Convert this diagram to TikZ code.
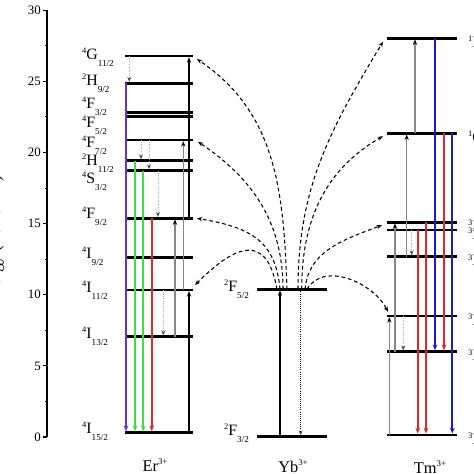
\documentclass[tikz,border=0pt]{standalone}
\usepackage{fontspec}
\setmainfont{Liberation Serif}
\usepackage{xcolor}
\usetikzlibrary{arrows.meta}
\definecolor{violetline}{RGB}{104,48,214}
\definecolor{greenline}{RGB}{64,222,64}
\definecolor{redline}{RGB}{226,40,40}
\definecolor{blueline}{RGB}{28,28,196}
\definecolor{pumpgray}{RGB}{135,135,135}
\definecolor{relaxgray}{RGB}{170,170,170}
\newcommand{\lterm}[3]{\raisebox{4.8pt}{\fontsize{7.2}{8}\selectfont #1}#2\raisebox{-6.6pt}{\fontsize{7.8}{8}\selectfont #3}}
\newcommand{\ion}[1]{#1\raisebox{5.5pt}{\fontsize{7.5}{8}\selectfont 3+}}
\tikzset{
  level/.style={line width=2.3pt,black},
  pump/.style={-{Stealth[length=4.6pt,width=3.6pt]},line width=0.9pt,black,shorten >=1pt},
  graypump/.style={-{Stealth[length=4.6pt,width=3.6pt,black]},line width=1pt,pumpgray,shorten >=1pt},
  relax/.style={-{Stealth[length=4.2pt,width=3.4pt,black!70]},densely dotted,line width=0.8pt,relaxgray,shorten >=1.2pt},
  emit/.style={-{Stealth[length=5pt,width=4pt]},line width=1.4pt,shorten >=1.2pt},
  transfer/.style={-{Stealth[length=4.6pt,width=3.6pt]},dash pattern=on 3.2pt off 2.4pt,line width=0.9pt},
  levellabel/.style={anchor=west,inner sep=0pt,font=\fontsize{13.5}{15}\selectfont},
  ionlabel/.style={inner sep=0pt,font=\fontsize{14}{16}\selectfont},
  ticklabel/.style={anchor=east,inner sep=0pt,font=\fontsize{11}{13}\selectfont}
}
\begin{document}
\begin{tikzpicture}[x=0.03cm,y=0.4269cm]
  \useasboundingbox (0,-2.6) rectangle (474,30.71);
  \clip (0,-2.6) rectangle (474,30.71);

  \draw[line width=1.5pt] (47,0) -- (47,30);
  \foreach \t in {0,5,...,30} {
    \draw[line width=1pt] (47,\t) -- (43,\t);
    \node[ticklabel] (tick\t) at (41,\t) {\t};
  }
  \foreach \t in {2.5,7.5,...,27.5}
    \draw[line width=0.8pt] (47,\t) -- (45,\t);
  \node[rotate=90,font=\fontsize{15}{17}\selectfont] (ytitle) at (-5,13.8)
    {Energy (10\textsuperscript{3} cm\textsuperscript{−1})};

  \coordinate (erG112) at (193,26.77);
  \coordinate (erH92) at (193,24.86);
  \coordinate (erF32) at (193,22.79);
  \coordinate (erF52) at (193,22.51);
  \coordinate (erF72) at (193,20.87);
  \coordinate (erH112) at (193,19.42);
  \coordinate (erS32) at (193,18.71);
  \coordinate (erF92) at (193,15.37);
  \coordinate (erI92) at (193,12.60);
  \coordinate (erI112) at (193,10.33);
  \coordinate (erI132) at (193,7.05);
  \coordinate (erI152) at (193,0.30);
  \foreach \lv in {erG112,erH92,erF32,erF52,erF72,erH112,erS32,erF92,erI92,erI112,erI132,erI152}
    \draw[level] (\lv) -- ++(-68,0);

  \coordinate (ybF52) at (257,10.38);
  \coordinate (ybF32) at (257,0.02);
  \foreach \lv in {ybF52,ybF32}
    \draw[level] (\lv) -- ++(70,0);

  \coordinate (tmD2) at (387,28.02);
  \coordinate (tmG4) at (387,21.34);
  \coordinate (tmF2) at (387,15.09);
  \coordinate (tmF3) at (387,14.55);
  \coordinate (tmH4) at (387,12.67);
  \coordinate (tmH5) at (387,8.50);
  \coordinate (tmF4) at (387,5.99);
  \coordinate (tmH6) at (387,0.14);
  \foreach \lv in {tmD2,tmG4,tmF2,tmF3,tmH4,tmH5,tmF4,tmH6}
    \draw[level] (\lv) -- ++(70,0);

  \node[levellabel] (lG112) at (82,26.68) {\lterm{4}{G}{11/2}};
  \node[levellabel] (lH92) at (82,24.85) {\lterm{2}{H}{9/2}};
  \node[levellabel] (lF32) at (82,23.23) {\lterm{4}{F}{3/2}};
  \node[levellabel] (lF52) at (82,21.90) {\lterm{4}{F}{5/2}};
  \node[levellabel] (lF72) at (82,20.49) {\lterm{4}{F}{7/2}};
  \node[levellabel] (lH112) at (82,19.23) {\lterm{2}{H}{11/2}};
  \node[levellabel] (lS32) at (82,17.96) {\lterm{4}{S}{3/2}};
  \node[levellabel] (lF92) at (82,15.50) {\lterm{4}{F}{9/2}};
  \node[levellabel] (lI92) at (82,12.69) {\lterm{4}{I}{9/2}};
  \node[levellabel] (lI112) at (82,10.30) {\lterm{4}{I}{11/2}};
  \node[levellabel] (lI132) at (82,7.07) {\lterm{4}{I}{13/2}};
  \node[levellabel] (lI152) at (82,0.39) {\lterm{4}{I}{15/2}};
  \node[levellabel] (lybF52) at (224,10.37) {\lterm{2}{F}{5/2}};
  \node[levellabel] (lybF32) at (224,0.25) {\lterm{2}{F}{3/2}};
  \node[levellabel] (ltmD2) at (468,27.50) {\lterm{1}{D}{2}};
  \node[levellabel] (ltmG4) at (468,20.82) {\lterm{1}{G}{4}};
  \node[levellabel] (ltmF2) at (468,14.57) {\lterm{3}{F}{2}};
  \node[levellabel] (ltmF3) at (468,14.03) {\lterm{3}{F}{3}};
  \node[levellabel] (ltmH4) at (468,12.15) {\lterm{3}{H}{4}};
  \node[levellabel] (ltmH5) at (468,7.98) {\lterm{3}{H}{5}};
  \node[levellabel] (ltmF4) at (468,5.47) {\lterm{3}{F}{4}};
  \node[levellabel] (ltmH6) at (468,-0.38) {\lterm{3}{H}{6}};

  \node[ionlabel] (er) at (155,-1.97) {\ion{Er}};
  \node[ionlabel] (yb) at (293,-2.04) {\ion{Yb}};
  \node[ionlabel] (tm) at (430,-2.10) {\ion{Tm}};

  \draw[relax] (129.3,0 |- erG112) -- (129.3,0 |- erH92);
  \draw[relax] (141,0 |- erF72) -- (141,0 |- erH112);
  \draw[relax] (149,0 |- erF72) -- (149,0 |- erS32);
  \draw[relax] (158,0 |- erS32) -- (158,0 |- erF92);
  \draw[relax] (163.3,0 |- erI112) -- (163.3,0 |- erI132);
  \draw[graypump] (175,0 |- erI132) -- (175,0 |- erF92);
  \draw[graypump] (183.3,0 |- erI112) -- (183.3,0 |- erF72);
  \draw[pump] (189,0 |- erF92) -- (189,0 |- erG112);
  \draw[pump] (189,0 |- erI152) -- (189,0 |- erI112);
  \draw[emit,violetline] (126,0 |- erH92) -- (126,0 |- erI152);
  \draw[emit,greenline] (135,0 |- erH112) -- (135,0 |- erI152);
  \draw[emit,greenline] (143.3,0 |- erS32) -- (143.3,0 |- erI152);
  \draw[emit,redline] (151.7,0 |- erF92) -- (151.7,0 |- erI152);

  \draw[pump] (280,0 |- ybF32) -- (280,0 |- ybF52);
  \draw[relax,black] (300.7,0 |- ybF52) -- (300.7,0 |- ybF32);

  \draw[graypump] (415,0 |- tmG4) -- (415,0 |- tmD2);
  \draw[graypump] (406.7,0 |- tmH4) -- (406.7,0 |- tmG4);
  \draw[relax] (411.7,0 |- tmF3) -- (411.7,0 |- tmH4);
  \draw[graypump] (395,0 |- tmF4) -- (395,0 |- tmF2);
  \draw[graypump] (389.3,0 |- tmH6) -- (389.3,0 |- tmH5);
  \draw[relax] (403.3,0 |- tmH5) -- (403.3,0 |- tmF4);
  \draw[emit,redline] (417.7,0 |- tmF3) -- (417.7,0 |- tmH6);
  \draw[emit,redline] (426,0 |- tmF2) -- (426,0 |- tmH6);
  \draw[emit,blueline] (435,0 |- tmD2) -- (435,0 |- tmF4);
  \draw[emit,redline] (444,0 |- tmG4) -- (444,0 |- tmF4);
  \draw[emit,blueline] (452.3,0 |- tmG4) -- (452.3,0 |- tmH6);

  \draw[transfer] (287,0 |- ybF52) to[out=92,in=-34] ([shift={(4,-0.21)}]erG112);
  \draw[transfer] (283,0 |- ybF52) to[out=90,in=-34] ([shift={(5,-0.12)}]erF72);
  \draw[transfer] (280,0 |- ybF52) to[out=95,in=-10,looseness=1.2] ([shift={(4,0)}]erF92);
  \draw[transfer] (277,0 |- ybF52) to[out=100,in=45,looseness=1.8] ([shift={(2,0.35)}]erI112);
  \draw[transfer] (298,0 |- ybF52) to[out=90,in=239] ([shift={(-4,-0.24)}]tmD2);
  \draw[transfer] (301.7,0 |- ybF52) to[out=90,in=210] ([shift={(-4,-0.2)}]tmG4);
  \draw[transfer] (305,0 |- ybF52) to[out=85,in=201] ([shift={(-5,-0.2)}]tmF2);
  \draw[transfer] (307,0 |- ybF52) to[out=60,in=117] ([shift={(1,0.3)}]tmH5);
\end{tikzpicture}
\end{document}
